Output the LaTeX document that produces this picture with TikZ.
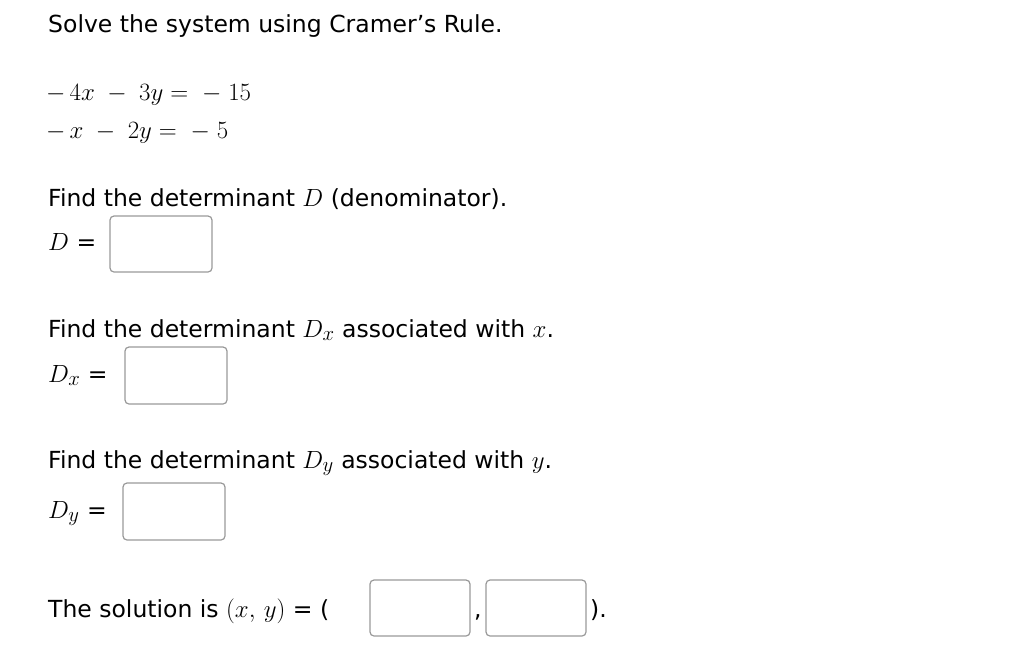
\documentclass[tikz,border=0pt]{standalone}
\usepackage{fontspec}
\setsansfont{DejaVu Sans}
\newcommand{\bm}[1]{{\fontsize{29}{32}\selectfont$#1$}}
\tikzset{
 txt/.style={anchor=base west,inner sep=0pt,font=\sffamily\fontsize{23.5}{28}\selectfont},
 mth/.style={anchor=base west,inner sep=0pt,font=\fontsize{31}{34}\selectfont},
 ans/.style={draw=gray!80,rounded corners=4pt,line width=1.2pt}
}
\begin{document}
\begin{tikzpicture}[x=1pt,y=-1pt]
\useasboundingbox (0,0) rectangle (1030,670);
\node[txt] (t1) at (48,32) {Solve the system using Cramer's Rule.};
\node[mth] (e1) at (46,100) {$-\,4x\;-\;3y=\;-\;15$};
\node[mth] (e2) at (46,138) {$-\,x\;-\;2y=\;-\;5$};
\node[txt] (t2) at (48,206) {Find the determinant \bm{D} (denominator).};
\node[txt] (l1) at (48,250) {\bm{D} =};
\draw[ans] (110,216) rectangle (212,272);
\node[txt] (t3) at (48,337) {Find the determinant \bm{D_x} associated with \bm{x}.};
\node[txt] (l2) at (48,382) {\bm{D_x} =};
\draw[ans] (125,347) rectangle (227,404);
\node[txt] (t4) at (48,468) {Find the determinant \bm{D_y} associated with \bm{y}.};
\node[txt] (l3) at (48,518) {\bm{D_y} =};
\draw[ans] (123,483) rectangle (225,540);
\node[txt] (t5) at (48,617) {The solution is \bm{(x,\,y)} = (};
\draw[ans] (370,580) rectangle (470,636);
\node[txt] (c) at (474,617) {,};
\draw[ans] (486,580) rectangle (586,636);
\node[txt] (e) at (590,617) {).};
\end{tikzpicture}
\end{document}
